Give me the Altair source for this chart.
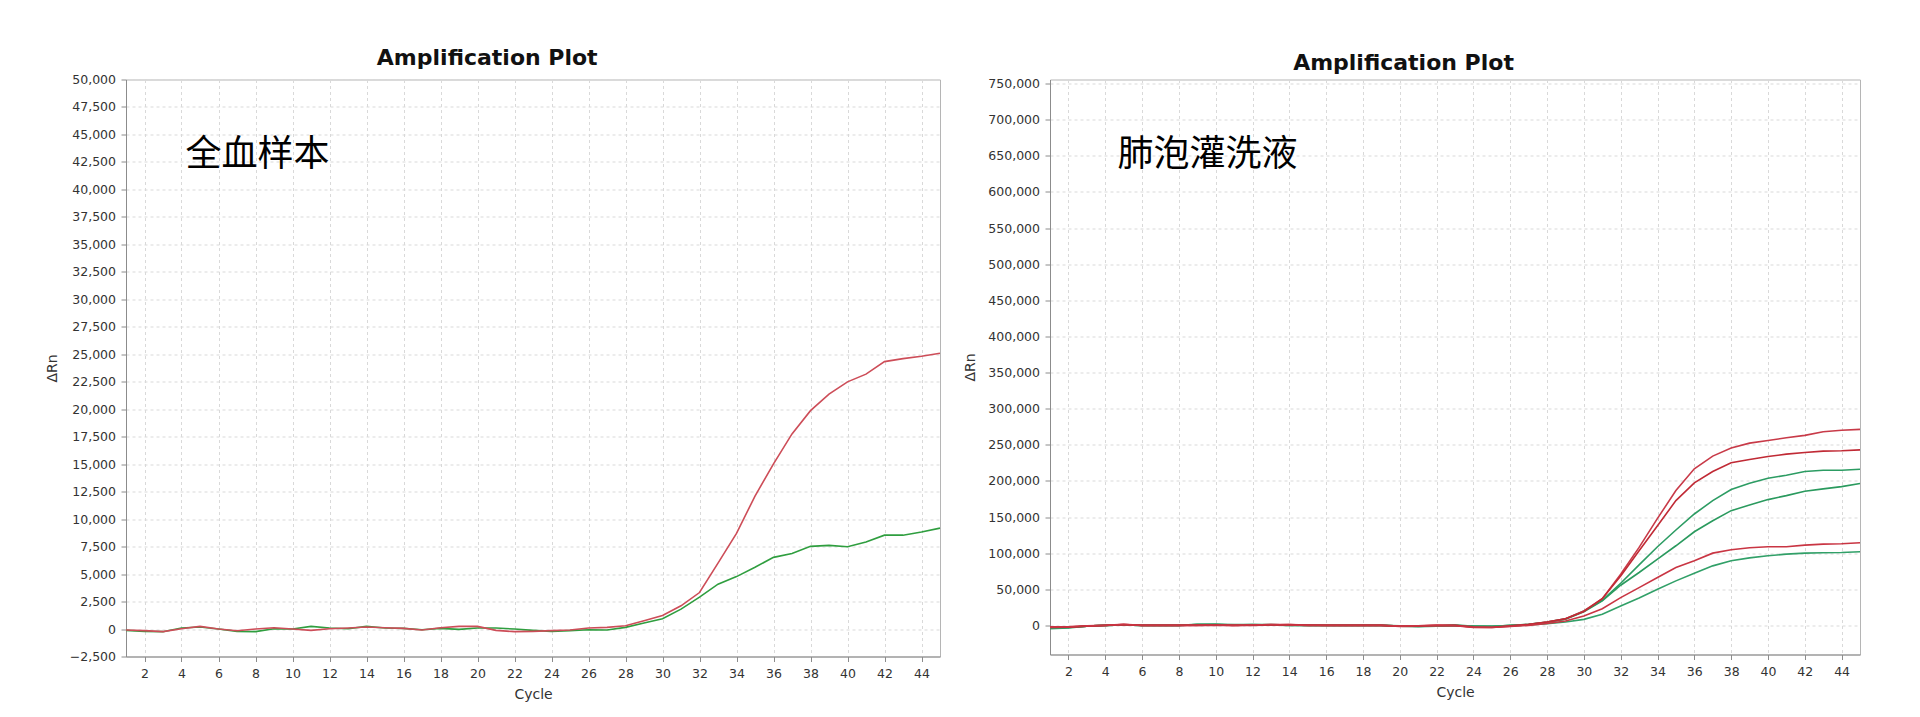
import altair as alt
import pandas as pd

cycles = list(range(1, 46))

# ---- Left panel: whole blood (全血样本) ----
left_red = [-90, -150, -240, 30, 240, 0, -150, 0, 120, 0, -120, 30, 90, 180, 120, 60, -90, 120, 240, 240,
            -120, -240, -210, -150, -90, 90, 150, 300, 750, 1240, 2110, 3320, 6000, 8700, 12100, 15030,
            17750, 19870, 21380, 22490, 23190, 24330, 24600, 24820, 25090]
left_green = [-120, -210, -240, 90, 180, 0, -210, -240, 30, 0, 240, 90, 30, 240, 90, 60, -60, 60, -30, 90,
              90, 0, -120, -210, -150, -60, -90, 150, 540, 940, 1810, 2900, 4080, 4770, 5620, 6520,
              6880, 7520, 7610, 7490, 7910, 8540, 8540, 8820, 9180]

# ---- Right panel: BALF (肺泡灌洗液) ----
right_r1 = [-2000, -2000, -1000, 0, 1500, 0, 0, 0, 0, 500, 0, 500, 1000, 1000, 0, 0, 0, 0, 0, -1000,
            -500, 0, 0, -2000, -2500, -500, 1500, 4600, 9300, 19900, 37000, 70800, 107900, 148100,
            186600, 216700, 234300, 245400, 252300, 256000, 259700, 263000, 268000, 270000, 271300]
right_r2 = [-3000, -2500, -1000, 0, 1000, 0, 0, 0, 500, 500, 0, 0, 500, 1000, 500, 0, 0, 0, 0, -1500,
            -1000, 0, 0, -2500, -3000, -1000, 1000, 4600, 9300, 19000, 37000, 68500, 103200, 138000,
            172700, 197200, 213000, 225000, 229600, 233800, 237000, 239400, 241200, 241700, 243000]
right_r3 = [-2500, -2000, -500, 0, 1200, 0, 0, 0, 0, 0, 0, 500, 1000, 500, 0, 0, 0, 0, 0, -1000,
            -500, 0, -500, -3000, -3000, -1500, 0, 2500, 6000, 13000, 23100, 38400, 52300, 66200,
            80100, 89400, 100000, 104600, 107400, 108800, 108800, 111100, 112500, 113000, 114400]
right_g1 = [-4000, -3000, -1000, 0, 500, 0, 0, 0, 1000, 1500, 1000, 1000, 500, 0, 0, 0, 0, 0, 0, -1000,
            -1500, -500, 0, -1500, -1500, 0, 1500, 4500, 9000, 19900, 34700, 58300, 83800, 108800,
            132000, 154200, 172700, 188000, 196800, 203700, 207900, 213000, 214800, 214800, 216200]
right_g2 = [-4000, -3000, -1000, 0, 500, 0, 0, 0, 1500, 1500, 500, 1000, 1000, 500, 0, 0, 0, 0, 0, -1000,
            -1500, -1000, 0, -1000, -1500, 0, 1500, 4000, 8500, 19000, 33800, 55600, 73200, 91700,
            110200, 129600, 144900, 158800, 166700, 174100, 179600, 185700, 189000, 192100, 196300]
right_g3 = [-4500, -3500, -1000, 0, 500, 0, 0, 0, 1000, 1000, 500, 500, 500, 0, 0, 0, 0, 0, 0, -500,
            -1500, -1000, 0, -1000, -1000, -500, 500, 2500, 4600, 8300, 15300, 26900, 38000, 50000,
            61600, 72200, 82400, 89400, 93500, 96300, 98600, 100000, 100500, 100900, 101900]

x_ticks = list(range(2, 45, 2))
left_y_ticks = list(range(-2500, 50001, 2500))
right_y_ticks = list(range(0, 750001, 50000))

left_label = "全血样本"
right_label = "肺泡灌洗液"
chart_title = "Amplification Plot"


def long_df(series, colors):
    rows = []
    for name, vals in series.items():
        for c, v in zip(cycles, vals):
            rows.append({"cycle": c, "value": v, "series": name, "col": colors[name]})
    return pd.DataFrame(rows)


def panel(green, red, colors, ydom, yticks, w, h, label, lx, ly, toff, tdx):
    df_g = long_df(green, colors)
    df_r = long_df(red, colors)
    x = alt.X("cycle:Q", title="Cycle", scale=alt.Scale(domain=[1, 45], nice=False, zero=False),
              axis=alt.Axis(values=x_ticks, tickCount=len(x_ticks), format="d"))
    y = alt.Y("value:Q", title="ΔRn", scale=alt.Scale(domain=ydom, nice=False, zero=False),
              axis=alt.Axis(values=yticks, tickCount=len(yticks), format=",d"))
    col = alt.Color("col:N", scale=None)
    g = alt.Chart(df_g).mark_line(strokeWidth=1.6).encode(x=x, y=y, color=col, detail="series:N")
    r = alt.Chart(df_r).mark_line(strokeWidth=1.6).encode(x=x, y=y, color=col, detail="series:N")
    t = alt.Chart(pd.DataFrame({"cycle": [lx], "value": [ly], "t": [label]})).mark_text(
        align="left", baseline="middle", font="Noto Sans CJK SC", fontSize=36, color="#000000"
    ).encode(x="cycle:Q", y="value:Q", text="t:N")
    return alt.layer(g, r, t).properties(
        width=w, height=h,
        title=alt.TitleParams(chart_title, font="DejaVu Sans", fontSize=22, fontWeight="bold",
                              anchor="middle", frame="bounds", offset=toff, dx=tdx, color="#111111"),
    )


left = panel({"lg": left_green}, {"lr": left_red},
             {"lg": "#2f9e3f", "lr": "#cd4d58"},
             [-2500, 50000], left_y_ticks, 814, 577, left_label, 4.22, 43130, 3.5, -7)

right = panel({"g1": right_g1, "g2": right_g2, "g3": right_g3},
              {"r1": right_r1, "r2": right_r2, "r3": right_r3},
              {"g1": "#2c9c63", "g2": "#2a9a5e", "g3": "#31a068",
               "r1": "#c83a48", "r2": "#c02a35", "r3": "#c93543"},
              [-40300, 755600], right_y_ticks, 810, 575, right_label, 4.66, 651100, 3, -10)

chart = alt.hconcat(left, right, spacing=19).properties(
    padding={"left": 36, "top": 38.5, "right": 5, "bottom": 5}
).configure(background="white").configure_axis(
    labelFont="DejaVu Sans", labelFontSize=12.5, labelColor="#333333", labelOverlap=False,
    titleFont="DejaVu Sans", titleFontSize=14, titleFontWeight="normal", titleColor="#333333",
    gridColor="#d9d9d9", gridDash=[3, 3], gridWidth=1,
    domainColor="#8c8c8c", tickColor="#8c8c8c", tickSize=5, labelPadding=5.5,
).configure_axisY(titlePadding=10).configure_axisX(titlePadding=8).configure_view(
    stroke="#b5b5b5", strokeWidth=1
)

chart.save("out.html", embed_options={"renderer": "svg", "actions": False})
